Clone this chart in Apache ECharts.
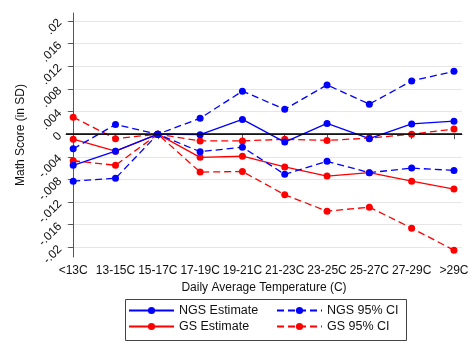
<!DOCTYPE html>
<html>
<head>
<meta charset="utf-8">
<script src="https://cdn.jsdelivr.net/npm/echarts@6/dist/echarts.min.js"></script>
<style>html,body{margin:0;padding:0;background:#fff;}#c{width:474px;height:355px;}</style>
</head>
<body>
<div id="c"></div>
<script>
const categories = ['<13C','13-15C','15-17C','17-19C','19-21C','21-23C','23-25C','25-27C','27-29C','>29C'];
const ngsEstimate = [-0.0055, -0.0030, 0, -0.0001, 0.0026, -0.0014, 0.0019, -0.0008, 0.0018, 0.0023];
const ngsUpper    = [-0.0026, 0.0017, 0, 0.0028, 0.0076, 0.0044, 0.0087, 0.0053, 0.0094, 0.0111];
const ngsLower    = [-0.0083, -0.0078, 0, -0.0031, -0.0023, -0.0071, -0.0048, -0.0068, -0.0060, -0.0064];
const gsEstimate  = [-0.0009, -0.0030, 0, -0.0041, -0.0039, -0.0058, -0.0074, -0.0068, -0.0083, -0.0097];
const gsUpper     = [0.0030, -0.0008, 0, -0.0012, -0.0012, -0.0009, -0.0011, -0.0007, 0.0000, 0.0009];
const gsLower     = [-0.0047, -0.0055, 0, -0.0067, -0.0066, -0.0107, -0.0136, -0.0129, -0.0166, -0.0205];
const yTickValues = [-0.02, -0.016, -0.012, -0.008, -0.004, 0, 0.004, 0.008, 0.012, 0.016, 0.02];
const yTickLabels = ['-.02', '-.016', '-.012', '-.008', '-.004', '0', '.004', '.008', '.012', '.016', '.02'];

const BLUE = '#0000ff', RED = '#ff0000';
const FONT = 'Liberation Sans, Arial, sans-serif';
const pts = arr => arr.map((v, i) => [i, v]);
const xIdx = categories.map((c, i) => i);

function mk(name, data, color, dashed, extra) {
  return Object.assign({
    name: name, type: 'line', data: pts(data),
    symbol: 'circle', symbolSize: 7,
    itemStyle: { color: color },
    lineStyle: { color: color, width: 1.3, type: dashed ? [7, 4] : 'solid' },
    emphasis: { disabled: true }, animation: false
  }, extra || {});
}

const chart = echarts.init(document.getElementById('c'), null, { renderer: 'canvas' });
chart.setOption({
  animation: false,
  grid: { left: 66, right: 12, top: 13, bottom: 98, containLabel: false },
  xAxis: {
    type: 'value', min: -0.17, max: 9.19,
    name: 'Daily Average Temperature (C)', nameLocation: 'middle', nameGap: 21,
    nameTextStyle: { fontFamily: FONT, fontSize: 12, color: '#111' },
    axisLine: { show: true, lineStyle: { color: '#555', width: 1 } },
    axisTick: { show: true, customValues: xIdx, length: 5, lineStyle: { color: '#555' } },
    axisLabel: { customValues: xIdx, margin: 8, fontFamily: FONT, fontSize: 12, color: '#111',
      formatter: v => categories[Math.round(v)] },
    splitLine: { show: false }
  },
  yAxis: {
    type: 'value', min: -0.0217, max: 0.0214,
    name: 'Math Score (in SD)', nameLocation: 'middle', nameGap: 36, nameRotate: 90,
    nameTextStyle: { fontFamily: FONT, fontSize: 12, color: '#111' },
    axisLine: { show: true, lineStyle: { color: '#555', width: 1 } },
    axisTick: { show: true, customValues: yTickValues, length: 5, lineStyle: { color: '#555' } },
    axisLabel: { customValues: yTickValues, rotate: 45, margin: 6, fontFamily: FONT, fontSize: 12, color: '#111',
      formatter: v => { const k = yTickValues.findIndex(t => Math.abs(t - v) < 1e-9); return k >= 0 ? yTickLabels[k] : ''; } },
    splitLine: { show: true, lineStyle: { color: '#e6e6e6', width: 1 } }
  },
  legend: [
    { orient: 'vertical', left: 128, top: 304, padding: 0, itemGap: 3, itemWidth: 45, itemHeight: 9,
      data: ['NGS Estimate', 'GS Estimate'], textStyle: { fontFamily: FONT, fontSize: 12.5, color: '#111' } },
    { orient: 'vertical', left: 276, top: 304, padding: 0, itemGap: 3, itemWidth: 45, itemHeight: 9,
      data: ['NGS 95% CI', 'GS 95% CI'], textStyle: { fontFamily: FONT, fontSize: 12.5, color: '#111' } }
  ],
  graphic: [
    { type: 'rect', left: 123, top: 297, shape: { width: 281, height: 41 },
      style: { fill: 'none', stroke: '#444', lineWidth: 1 }, silent: true }
  ],
  series: [
    mk('GS 95% CI', gsUpper, RED, true, {
      markLine: { silent: true, symbol: 'none', label: { show: false },
        lineStyle: { color: '#000', width: 1.5, type: 'solid' }, data: [{ yAxis: 0 }] }
    }),
    mk('GS 95% CI', gsLower, RED, true),
    mk('GS Estimate', gsEstimate, RED, false),
    mk('NGS 95% CI', ngsUpper, BLUE, true),
    mk('NGS 95% CI', ngsLower, BLUE, true),
    mk('NGS Estimate', ngsEstimate, BLUE, false)
  ]
});
</script>
</body>
</html>
